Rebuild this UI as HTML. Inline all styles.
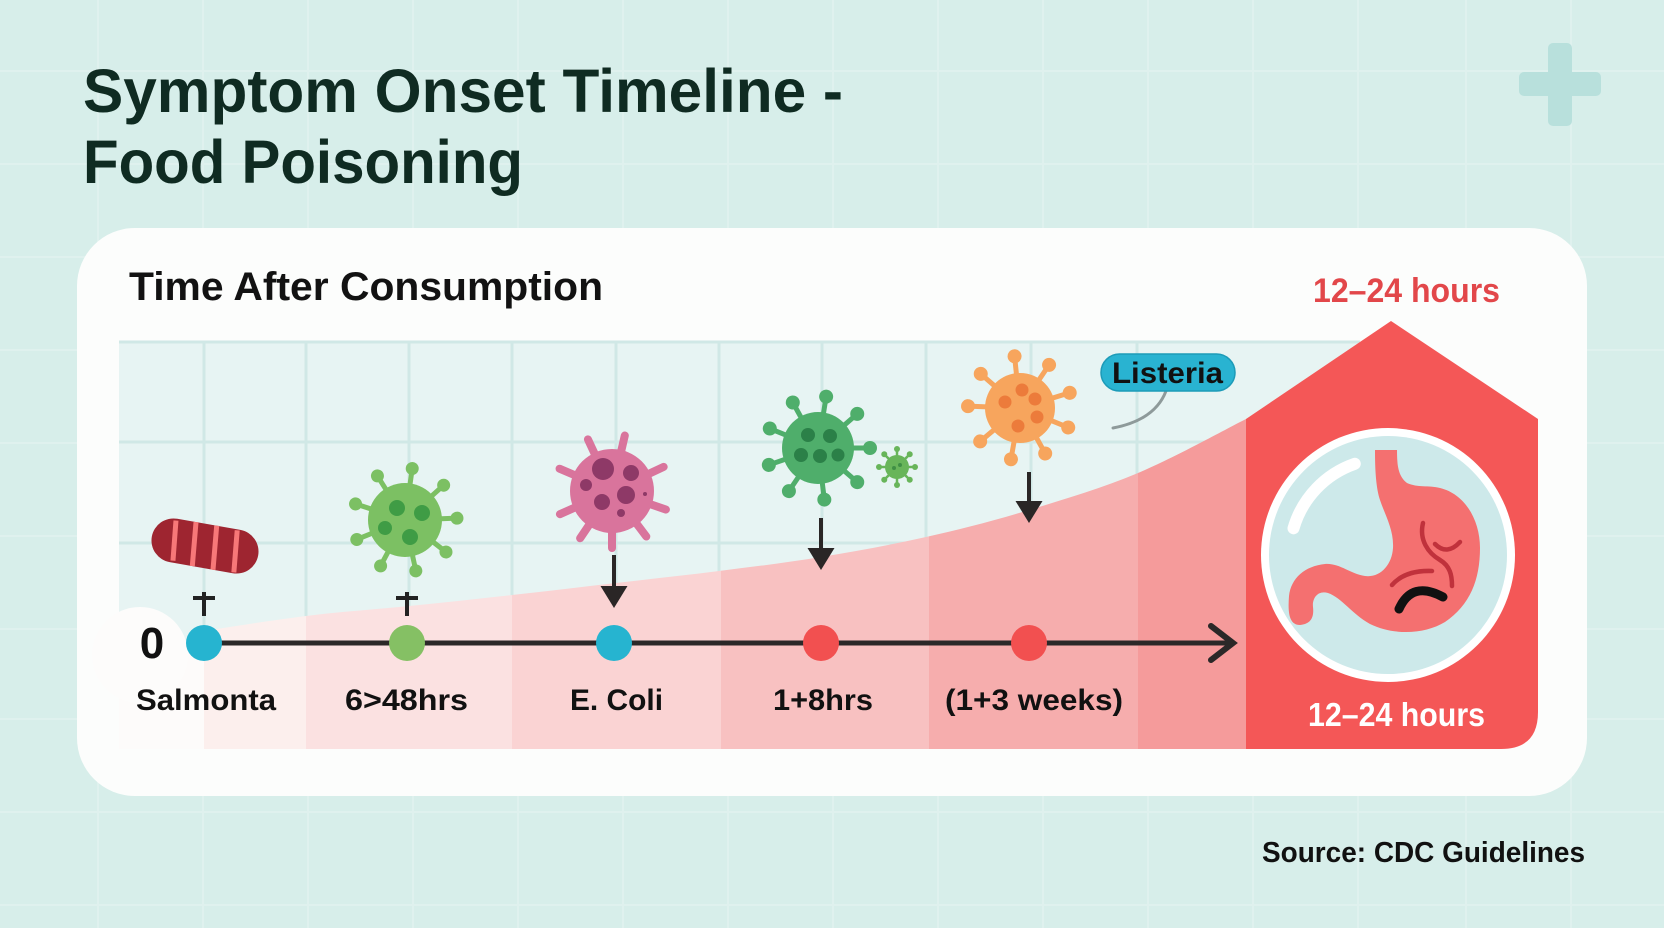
<!DOCTYPE html>
<html>
<head>
<meta charset="utf-8">
<style>
  html,body{margin:0;padding:0;background:#d7eeea;}
  svg{display:block;}
  text{font-family:"Liberation Sans",Arial,sans-serif;font-weight:bold;}
</style>
</head>
<body>
<svg width="1664" height="928" viewBox="0 0 1664 928" xmlns="http://www.w3.org/2000/svg">
  <defs>
    <clipPath id="areaClip">
      <path d="M204,631 C221,628.5 271.8,620.2 306,616 C340.2,611.8 374.7,609.5 409,606 C443.3,602.5 477.5,598.8 512,595 C546.5,591.2 581.5,587 616,583 C650.5,579 684.8,575.3 719,571 C753.2,566.7 786.5,562.7 821,557 C855.5,551.3 891.3,544.8 926,537 C960.7,529.2 993.7,520.7 1029,510 C1064.3,499.3 1101.8,488.2 1138,473 C1174.2,457.8 1228,428 1246,419 L1246,749 L204,749 Z"/>
    </clipPath>
  </defs>

  <!-- background -->
  <rect x="0" y="0" width="1664" height="928" fill="#d7eeea"/>
  <g stroke="#dff1ee" stroke-width="2">
    <line x1="98" y1="0" x2="98" y2="928"/>
    <line x1="203" y1="0" x2="203" y2="928"/>
    <line x1="308" y1="0" x2="308" y2="928"/>
    <line x1="413" y1="0" x2="413" y2="928"/>
    <line x1="518" y1="0" x2="518" y2="928"/>
    <line x1="623" y1="0" x2="623" y2="928"/>
    <line x1="728" y1="0" x2="728" y2="928"/>
    <line x1="833" y1="0" x2="833" y2="928"/>
    <line x1="938" y1="0" x2="938" y2="928"/>
    <line x1="1043" y1="0" x2="1043" y2="928"/>
    <line x1="1148" y1="0" x2="1148" y2="928"/>
    <line x1="1253" y1="0" x2="1253" y2="928"/>
    <line x1="1358" y1="0" x2="1358" y2="928"/>
    <line x1="1466" y1="0" x2="1466" y2="928"/>
    <line x1="1571" y1="0" x2="1571" y2="928"/>
    <line x1="0" y1="71" x2="1664" y2="71"/>
    <line x1="0" y1="164" x2="1664" y2="164"/>
    <line x1="0" y1="257" x2="1664" y2="257"/>
    <line x1="0" y1="350" x2="1664" y2="350"/>
    <line x1="0" y1="443" x2="1664" y2="443"/>
    <line x1="0" y1="536" x2="1664" y2="536"/>
    <line x1="0" y1="629" x2="1664" y2="629"/>
    <line x1="0" y1="719" x2="1664" y2="719"/>
    <line x1="0" y1="812" x2="1664" y2="812"/>
    <line x1="0" y1="905" x2="1664" y2="905"/>
  </g>

  <!-- plus icon -->
  <rect x="1548" y="43" width="24" height="83" rx="5" fill="#b8e0dc"/>
  <rect x="1519" y="72" width="82" height="24" rx="5" fill="#b8e0dc"/>

  <!-- title -->
  <text x="83" y="112" font-size="61" fill="#0f2b22" textLength="760" lengthAdjust="spacingAndGlyphs">Symptom Onset Timeline -</text>
  <text x="83" y="183" font-size="61" fill="#0f2b22" textLength="440" lengthAdjust="spacingAndGlyphs">Food Poisoning</text>

  <!-- card -->
  <rect x="77" y="228" width="1510" height="568" rx="58" fill="#fcfdfc"/>

  <text x="129" y="300" font-size="40" fill="#121212" textLength="474" lengthAdjust="spacingAndGlyphs">Time After Consumption</text>
  <text x="1313" y="302" font-size="34" fill="#e2474a" textLength="187" lengthAdjust="spacingAndGlyphs">12–24 hours</text>

  <!-- chart area -->
  <rect x="119" y="342" width="1241" height="407" fill="#e7f4f3"/>
  <g stroke="#d0e8e6" stroke-width="3">
    <line x1="119" y1="342" x2="1360" y2="342"/>
    <line x1="119" y1="442" x2="1360" y2="442"/>
    <line x1="119" y1="543" x2="1360" y2="543"/>
    <line x1="204" y1="342" x2="204" y2="749"/>
    <line x1="306" y1="342" x2="306" y2="749"/>
    <line x1="409" y1="342" x2="409" y2="749"/>
    <line x1="512" y1="342" x2="512" y2="749"/>
    <line x1="616" y1="342" x2="616" y2="749"/>
    <line x1="719" y1="342" x2="719" y2="749"/>
    <line x1="822" y1="342" x2="822" y2="749"/>
    <line x1="926" y1="342" x2="926" y2="749"/>
    <line x1="1031" y1="342" x2="1031" y2="749"/>
    <line x1="1137" y1="342" x2="1137" y2="749"/>
  </g>

  <!-- white bits left -->
  <rect x="119" y="650" width="86" height="99" fill="#fdfbfa"/>
  <circle cx="140" cy="655" r="48" fill="#fdfcfb"/>

  <!-- red area bands -->
  <g clip-path="url(#areaClip)">
    <rect x="204" y="400" width="102" height="350" fill="#fcefed"/>
    <rect x="306" y="400" width="206" height="350" fill="#fbe1e1"/>
    <rect x="512" y="400" width="209" height="350" fill="#fad3d3"/>
    <rect x="721" y="400" width="208" height="350" fill="#f8c1c1"/>
    <rect x="929" y="400" width="209" height="350" fill="#f6adad"/>
    <rect x="1138" y="400" width="108" height="350" fill="#f59b9b"/>
  </g>

  <!-- pentagon -->
  <path d="M1246,419 L1391,321 L1538,419 L1538,712 Q1538,749 1501,749 L1246,749 Z" fill="#f45757"/>

  <!-- stomach circle -->
  <circle cx="1388" cy="555" r="127" fill="#ffffff"/>
  <circle cx="1388" cy="555" r="119" fill="#cde9ea"/>
  <path d="M1293.5,528.3 A97,97 0 0 1 1354.8,463.8" fill="none" stroke="#ffffff" stroke-width="12" stroke-linecap="round"/>
  <path d="M1375,450 L1397,450 C1397,465 1398,476 1407,483 C1418,488 1428,485 1440,488 C1465,494 1480,520 1480,548 C1480,580 1470,605 1445,622 C1425,634 1395,636 1370,624 C1352,614 1342,598 1328,593 C1318,590 1312,598 1313,607 C1314,616 1312,624 1300,625 C1288,625 1288,610 1289,596 C1291,578 1305,566 1325,564 C1340,563 1350,574 1365,576 C1380,578 1392,565 1393,548 C1394,530 1385,515 1380,500 C1376,488 1375,470 1375,450 Z" fill="#f47070"/>
  <g fill="none" stroke="#c0323c" stroke-width="4.5" stroke-linecap="round">
    <path d="M1423,523 C1419,540 1428,553 1440,560 C1450,566 1452,575 1452,586"/>
    <path d="M1435,544 Q1447,556 1460,542"/>
    <path d="M1392,585 Q1405,570 1432,571"/>
  </g>
  <path d="M1399,609 Q1412,580 1443,597" fill="none" stroke="#111" stroke-width="9" stroke-linecap="round"/>

  <text x="1308" y="726" font-size="33" fill="#ffffff" textLength="177" lengthAdjust="spacingAndGlyphs">12–24 hours</text>

  <!-- timeline -->
  <line x1="204" y1="643" x2="1231" y2="643" stroke="#2b2828" stroke-width="5"/>
  <path d="M1211,626 L1233,643 L1211,660" fill="none" stroke="#2b2828" stroke-width="6" stroke-linecap="round" stroke-linejoin="miter"/>

  <circle cx="204" cy="643" r="18" fill="#26b4d0"/>
  <circle cx="407" cy="643" r="18" fill="#85c064"/>
  <circle cx="614" cy="643" r="18" fill="#26b4d0"/>
  <circle cx="821" cy="643" r="18" fill="#f25050"/>
  <circle cx="1029" cy="643" r="18" fill="#f25050"/>

  <text x="152" y="658" font-size="44" fill="#111" text-anchor="middle">0</text>

  <!-- labels -->
  <text x="136" y="710" font-size="30" fill="#111" textLength="140" lengthAdjust="spacingAndGlyphs">Salmonta</text>
  <text x="345" y="710" font-size="30" fill="#111" textLength="123" lengthAdjust="spacingAndGlyphs">6&gt;48hrs</text>
  <text x="570" y="710" font-size="30" fill="#111" textLength="93" lengthAdjust="spacingAndGlyphs">E. Coli</text>
  <text x="773" y="710" font-size="30" fill="#111" textLength="100" lengthAdjust="spacingAndGlyphs">1+8hrs</text>
  <text x="945" y="710" font-size="30" fill="#111" textLength="178" lengthAdjust="spacingAndGlyphs">(1+3 weeks)</text>

  <!-- capsule -->
  <g transform="translate(205,546) rotate(10)">
    <rect x="-54" y="-22" width="108" height="44" rx="22" fill="#9e2530"/>
    <g stroke="#f77878" stroke-width="5">
      <line x1="-33" y1="-20" x2="-29" y2="20"/>
      <line x1="-13" y1="-22" x2="-9" y2="22"/>
      <line x1="8" y1="-22" x2="12" y2="22"/>
      <line x1="29" y1="-21" x2="33" y2="21"/>
    </g>
  </g>
  <!-- daggers -->
  <g stroke="#222" stroke-width="4">
    <line x1="204" y1="592" x2="204" y2="616"/>
    <line x1="193" y1="598" x2="215" y2="598"/>
    <line x1="407" y1="592" x2="407" y2="616"/>
    <line x1="396" y1="598" x2="418" y2="598"/>
  </g>

  <!-- green virus 1 -->
  <g transform="translate(405,520)" fill="#7cc063" stroke="#7cc063">
    <g transform="rotate(-82)"><line x1="30" y1="0" x2="52" y2="0" stroke-width="5"/><circle cx="52" cy="0" r="6.5" stroke="none"/></g>
    <g transform="rotate(-42)"><line x1="30" y1="0" x2="52" y2="0" stroke-width="5"/><circle cx="52" cy="0" r="6.5" stroke="none"/></g>
    <g transform="rotate(-2)"><line x1="30" y1="0" x2="52" y2="0" stroke-width="5"/><circle cx="52" cy="0" r="6.5" stroke="none"/></g>
    <g transform="rotate(38)"><line x1="30" y1="0" x2="52" y2="0" stroke-width="5"/><circle cx="52" cy="0" r="6.5" stroke="none"/></g>
    <g transform="rotate(78)"><line x1="30" y1="0" x2="52" y2="0" stroke-width="5"/><circle cx="52" cy="0" r="6.5" stroke="none"/></g>
    <g transform="rotate(118)"><line x1="30" y1="0" x2="52" y2="0" stroke-width="5"/><circle cx="52" cy="0" r="6.5" stroke="none"/></g>
    <g transform="rotate(158)"><line x1="30" y1="0" x2="52" y2="0" stroke-width="5"/><circle cx="52" cy="0" r="6.5" stroke="none"/></g>
    <g transform="rotate(198)"><line x1="30" y1="0" x2="52" y2="0" stroke-width="5"/><circle cx="52" cy="0" r="6.5" stroke="none"/></g>
    <g transform="rotate(238)"><line x1="30" y1="0" x2="52" y2="0" stroke-width="5"/><circle cx="52" cy="0" r="6.5" stroke="none"/></g>
    <circle cx="0" cy="0" r="37" stroke="none"/>
    <g fill="#3f9c45" stroke="none">
      <circle cx="-8" cy="-12" r="8"/><circle cx="17" cy="-7" r="8"/><circle cx="-20" cy="8" r="7"/><circle cx="5" cy="17" r="8"/>
    </g>
  </g>

  <!-- pink virus -->
  <g transform="translate(612,491)">
    <g stroke="#d9749c" stroke-width="8" stroke-linecap="round">
      <line x1="0" y1="0" x2="57" y2="0" transform="rotate(-115)"/>
      <line x1="0" y1="0" x2="57" y2="0" transform="rotate(-77)"/>
      <line x1="0" y1="0" x2="57" y2="0" transform="rotate(-25)"/>
      <line x1="0" y1="0" x2="57" y2="0" transform="rotate(19)"/>
      <line x1="0" y1="0" x2="57" y2="0" transform="rotate(53)"/>
      <line x1="0" y1="0" x2="57" y2="0" transform="rotate(90)"/>
      <line x1="0" y1="0" x2="57" y2="0" transform="rotate(124)"/>
      <line x1="0" y1="0" x2="57" y2="0" transform="rotate(156)"/>
      <line x1="0" y1="0" x2="57" y2="0" transform="rotate(203)"/>
    </g>
    <circle cx="0" cy="0" r="42" fill="#d9749c"/>
    <g fill="#8e3967">
      <circle cx="-9" cy="-22" r="11"/><circle cx="19" cy="-18" r="8"/><circle cx="-26" cy="-6" r="6"/>
      <circle cx="14" cy="4" r="9"/><circle cx="-10" cy="11" r="8"/><circle cx="9" cy="22" r="4"/><circle cx="33" cy="3" r="2"/>
    </g>
  </g>

  <!-- green virus 2 -->
  <g transform="translate(818,448)" fill="#4fae6b" stroke="#4fae6b">
    <g transform="rotate(-81)"><line x1="30" y1="0" x2="52" y2="0" stroke-width="5"/><circle cx="52" cy="0" r="7" stroke="none"/></g>
    <g transform="rotate(-41)"><line x1="30" y1="0" x2="52" y2="0" stroke-width="5"/><circle cx="52" cy="0" r="7" stroke="none"/></g>
    <g transform="rotate(0)"><line x1="30" y1="0" x2="52" y2="0" stroke-width="5"/><circle cx="52" cy="0" r="7" stroke="none"/></g>
    <g transform="rotate(41)"><line x1="30" y1="0" x2="52" y2="0" stroke-width="5"/><circle cx="52" cy="0" r="7" stroke="none"/></g>
    <g transform="rotate(83)"><line x1="30" y1="0" x2="52" y2="0" stroke-width="5"/><circle cx="52" cy="0" r="7" stroke="none"/></g>
    <g transform="rotate(124)"><line x1="30" y1="0" x2="52" y2="0" stroke-width="5"/><circle cx="52" cy="0" r="7" stroke="none"/></g>
    <g transform="rotate(161)"><line x1="30" y1="0" x2="52" y2="0" stroke-width="5"/><circle cx="52" cy="0" r="7" stroke="none"/></g>
    <g transform="rotate(202)"><line x1="30" y1="0" x2="52" y2="0" stroke-width="5"/><circle cx="52" cy="0" r="7" stroke="none"/></g>
    <g transform="rotate(241)"><line x1="30" y1="0" x2="52" y2="0" stroke-width="5"/><circle cx="52" cy="0" r="7" stroke="none"/></g>
    <circle cx="0" cy="0" r="36" stroke="none"/>
    <g fill="#2b8048" stroke="none">
      <circle cx="-10" cy="-13" r="7"/><circle cx="12" cy="-12" r="7"/><circle cx="-17" cy="7" r="7"/><circle cx="2" cy="8" r="7"/><circle cx="20" cy="7" r="6.5"/>
    </g>
  </g>

  <!-- small virus -->
  <g transform="translate(897,467)" fill="#68b55a" stroke="#68b55a">
    <g transform="rotate(0)"><line x1="10" y1="0" x2="18" y2="0" stroke-width="2.5"/><circle cx="18" cy="0" r="3" stroke="none"/></g>
    <g transform="rotate(45)"><line x1="10" y1="0" x2="18" y2="0" stroke-width="2.5"/><circle cx="18" cy="0" r="3" stroke="none"/></g>
    <g transform="rotate(90)"><line x1="10" y1="0" x2="18" y2="0" stroke-width="2.5"/><circle cx="18" cy="0" r="3" stroke="none"/></g>
    <g transform="rotate(135)"><line x1="10" y1="0" x2="18" y2="0" stroke-width="2.5"/><circle cx="18" cy="0" r="3" stroke="none"/></g>
    <g transform="rotate(180)"><line x1="10" y1="0" x2="18" y2="0" stroke-width="2.5"/><circle cx="18" cy="0" r="3" stroke="none"/></g>
    <g transform="rotate(225)"><line x1="10" y1="0" x2="18" y2="0" stroke-width="2.5"/><circle cx="18" cy="0" r="3" stroke="none"/></g>
    <g transform="rotate(270)"><line x1="10" y1="0" x2="18" y2="0" stroke-width="2.5"/><circle cx="18" cy="0" r="3" stroke="none"/></g>
    <g transform="rotate(315)"><line x1="10" y1="0" x2="18" y2="0" stroke-width="2.5"/><circle cx="18" cy="0" r="3" stroke="none"/></g>
    <circle cx="0" cy="0" r="12" stroke="none"/>
    <g fill="#3f8f45" stroke="none"><circle cx="-3" cy="1" r="2"/><circle cx="3" cy="-2" r="2"/></g>
  </g>

  <!-- orange virus -->
  <g transform="translate(1020,408)" fill="#f7a55d" stroke="#f7a55d">
    <g transform="rotate(-96)"><line x1="30" y1="0" x2="52" y2="0" stroke-width="5"/><circle cx="52" cy="0" r="7" stroke="none"/></g>
    <g transform="rotate(-56)"><line x1="30" y1="0" x2="52" y2="0" stroke-width="5"/><circle cx="52" cy="0" r="7" stroke="none"/></g>
    <g transform="rotate(-17)"><line x1="30" y1="0" x2="52" y2="0" stroke-width="5"/><circle cx="52" cy="0" r="7" stroke="none"/></g>
    <g transform="rotate(22)"><line x1="30" y1="0" x2="52" y2="0" stroke-width="5"/><circle cx="52" cy="0" r="7" stroke="none"/></g>
    <g transform="rotate(61)"><line x1="30" y1="0" x2="52" y2="0" stroke-width="5"/><circle cx="52" cy="0" r="7" stroke="none"/></g>
    <g transform="rotate(100)"><line x1="30" y1="0" x2="52" y2="0" stroke-width="5"/><circle cx="52" cy="0" r="7" stroke="none"/></g>
    <g transform="rotate(140)"><line x1="30" y1="0" x2="52" y2="0" stroke-width="5"/><circle cx="52" cy="0" r="7" stroke="none"/></g>
    <g transform="rotate(182)"><line x1="30" y1="0" x2="52" y2="0" stroke-width="5"/><circle cx="52" cy="0" r="7" stroke="none"/></g>
    <g transform="rotate(221)"><line x1="30" y1="0" x2="52" y2="0" stroke-width="5"/><circle cx="52" cy="0" r="7" stroke="none"/></g>
    <circle cx="0" cy="0" r="35" stroke="none"/>
    <g fill="#ec7b3b" stroke="none">
      <circle cx="2" cy="-18" r="6.5"/><circle cx="-15" cy="-6" r="6.5"/><circle cx="15" cy="-9" r="6.5"/><circle cx="17" cy="9" r="6.5"/><circle cx="-2" cy="18" r="6.5"/>
    </g>
  </g>

  <!-- down arrows -->
  <g fill="#2a2626" stroke="#2a2626">
    <line x1="614" y1="555" x2="614" y2="590" stroke-width="4"/>
    <path d="M600.5,586 L627.5,586 L614,608 Z" stroke="none"/>
    <line x1="821" y1="518" x2="821" y2="552" stroke-width="4"/>
    <path d="M807.5,548 L834.5,548 L821,570 Z" stroke="none"/>
    <line x1="1029" y1="472" x2="1029" y2="505" stroke-width="4"/>
    <path d="M1015.5,501 L1042.5,501 L1029,523 Z" stroke="none"/>
  </g>

  <!-- Listeria label -->
  <path d="M1166,391 Q1155,420 1113,428" fill="none" stroke="#8e9a9a" stroke-width="3" stroke-linecap="round"/>
  <rect x="1101" y="354" width="134" height="37" rx="18.5" fill="#29b3d1" stroke="#1d9bb8" stroke-width="1.5"/>
  <text x="1112" y="383" font-size="30" fill="#111" textLength="111" lengthAdjust="spacingAndGlyphs">Listeria</text>

  <!-- source -->
  <text x="1262" y="862" font-size="29" fill="#111" textLength="323" lengthAdjust="spacingAndGlyphs">Source: CDC Guidelines</text>
</svg>
</body>
</html>
